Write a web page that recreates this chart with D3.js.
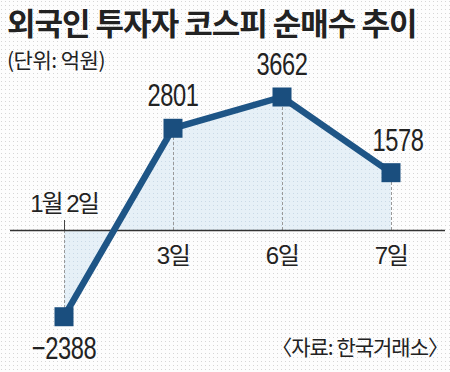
<!DOCTYPE html>
<html>
<head>
<meta charset="utf-8">
<script src="https://cdn.jsdelivr.net/npm/d3@7"></script>
<style>
  body { margin: 0; background: #fff; }
  svg text { font-family: "Liberation Sans", "Noto Sans CJK KR", sans-serif; fill: #222; }
  .kr { font-family: "Noto Sans CJK KR", sans-serif; }
</style>
</head>
<body>
<div id="chart"></div>
<script>
var days = ["1월 2일", "3일", "6일", "7일"]
var values = [-2388, 2801, 3662, 1578]
var valueLabels = ["−2388", "2801", "3662", "1578"]

var width = 450,
    height = 372;

var svg = d3.select("#chart").append("svg")
    .attr("width", width)
    .attr("height", height);

// dotted paper background
var defs = svg.append("defs");
var pat = defs.append("pattern")
    .attr("id", "dots")
    .attr("width", 4).attr("height", 4)
    .attr("patternUnits", "userSpaceOnUse");
pat.append("rect").attr("width", 4).attr("height", 4).attr("fill", "#fdfdfd");
pat.append("rect").attr("x", 1).attr("y", 1).attr("width", 1).attr("height", 1).attr("fill", "#d6d6d6");

var pat2 = defs.append("pattern")
    .attr("id", "bluedots")
    .attr("width", 4).attr("height", 4)
    .attr("patternUnits", "userSpaceOnUse");
pat2.append("rect").attr("width", 4).attr("height", 4).attr("fill", "#e6f0f7");
pat2.append("rect").attr("x", 1).attr("y", 1).attr("width", 1).attr("height", 1).attr("fill", "#c9d9e6");

svg.append("rect").attr("width", width).attr("height", height).attr("fill", "url(#dots)");

var x = d3.scalePoint()
    .domain(days)
    .range([64, 391]);

var y = d3.scaleLinear()
    .domain([0, 3662])
    .range([230, 97]);

// area between line and zero
var area = d3.area()
    .x(function(d, i) { return x(days[i]); })
    .y0(y(0))
    .y1(function(d) { return y(d); });

svg.append("path")
    .datum(values)
    .attr("d", area)
    .attr("fill", "url(#bluedots)");

// dashed drop lines
svg.selectAll(".drop")
    .data(values)
  .enter().append("line")
    .attr("class", "drop")
    .attr("x1", function(d, i) { return x(days[i]) + 0.5; })
    .attr("x2", function(d, i) { return x(days[i]) + 0.5; })
    .attr("y1", y(0))
    .attr("y2", function(d) { return y(d); })
    .attr("stroke", "#999")
    .attr("stroke-width", 1)
    .attr("stroke-dasharray", "3,2");

// small tick above axis at the first day
svg.append("line")
    .attr("x1", x(days[0]) + 0.5).attr("x2", x(days[0]) + 0.5)
    .attr("y1", y(0) - 10).attr("y2", y(0))
    .attr("stroke", "#444").attr("stroke-width", 1);

// zero axis
svg.append("line")
    .attr("x1", 10).attr("x2", 445)
    .attr("y1", y(0) + 0.5).attr("y2", y(0) + 0.5)
    .attr("stroke", "#333").attr("stroke-width", 1.3);

// main line
var line = d3.line()
    .x(function(d, i) { return x(days[i]); })
    .y(function(d) { return y(d); });

svg.append("path")
    .datum(values)
    .attr("d", line)
    .attr("fill", "none")
    .attr("stroke", "#1e5586")
    .attr("stroke-width", 6.5)
    .attr("stroke-linejoin", "miter");

// square markers
var ms = 19;
svg.selectAll(".mark")
    .data(values)
  .enter().append("rect")
    .attr("class", "mark")
    .attr("x", function(d, i) { return x(days[i]) - ms / 2; })
    .attr("y", function(d) { return y(d) - ms / 2; })
    .attr("width", ms).attr("height", ms)
    .attr("fill", "#1a4e7e");

// value labels (condensed digits)
svg.selectAll(".val")
    .data(values)
  .enter().append("text")
    .attr("class", "val")
    .attr("transform", function(d, i) {
      var tx = x(days[i]) + (i == 3 ? 7 : 0);
      var ty = d < 0 ? y(d) + 42 : y(d) - 22;
      return "translate(" + tx + "," + ty + ") scale(0.74,1)";
    })
    .attr("text-anchor", "middle")
    .attr("font-size", 32)
    .attr("letter-spacing", -0.5)
    .text(function(d, i) { return valueLabels[i]; });

// day labels
svg.selectAll(".day")
    .data(days)
  .enter().append("text")
    .attr("class", "day")
    .attr("x", function(d) { return x(d); })
    .attr("y", function(d, i) { return i == 0 ? 212 : 264; })
    .attr("text-anchor", "middle")
    .attr("font-size", 24)
    .attr("letter-spacing", function(d, i) { return i == 0 ? -2 : -1.5; })
    .text(function(d) { return d; });

// titles
svg.append("text")
    .attr("class", "kr")
    .attr("x", 7).attr("y", 35)
    .attr("font-size", 31)
    .attr("font-weight", "bold")
    .attr("letter-spacing", -1)
    .text("외국인 투자자 코스피 순매수 추이");

svg.append("text")
    .attr("class", "kr")
    .attr("x", 7).attr("y", 68)
    .attr("font-size", 21)
    .attr("fill", "#333")
    .attr("letter-spacing", -0.5)
    .text("(단위: 억원)");

svg.append("text")
    .attr("class", "kr")
    .attr("x", 448).attr("y", 355)
    .attr("text-anchor", "end")
    .attr("font-size", 21)
    .attr("fill", "#333")
    .attr("letter-spacing", -1)
    .text("〈자료: 한국거래소〉");
</script>
</body>
</html>
